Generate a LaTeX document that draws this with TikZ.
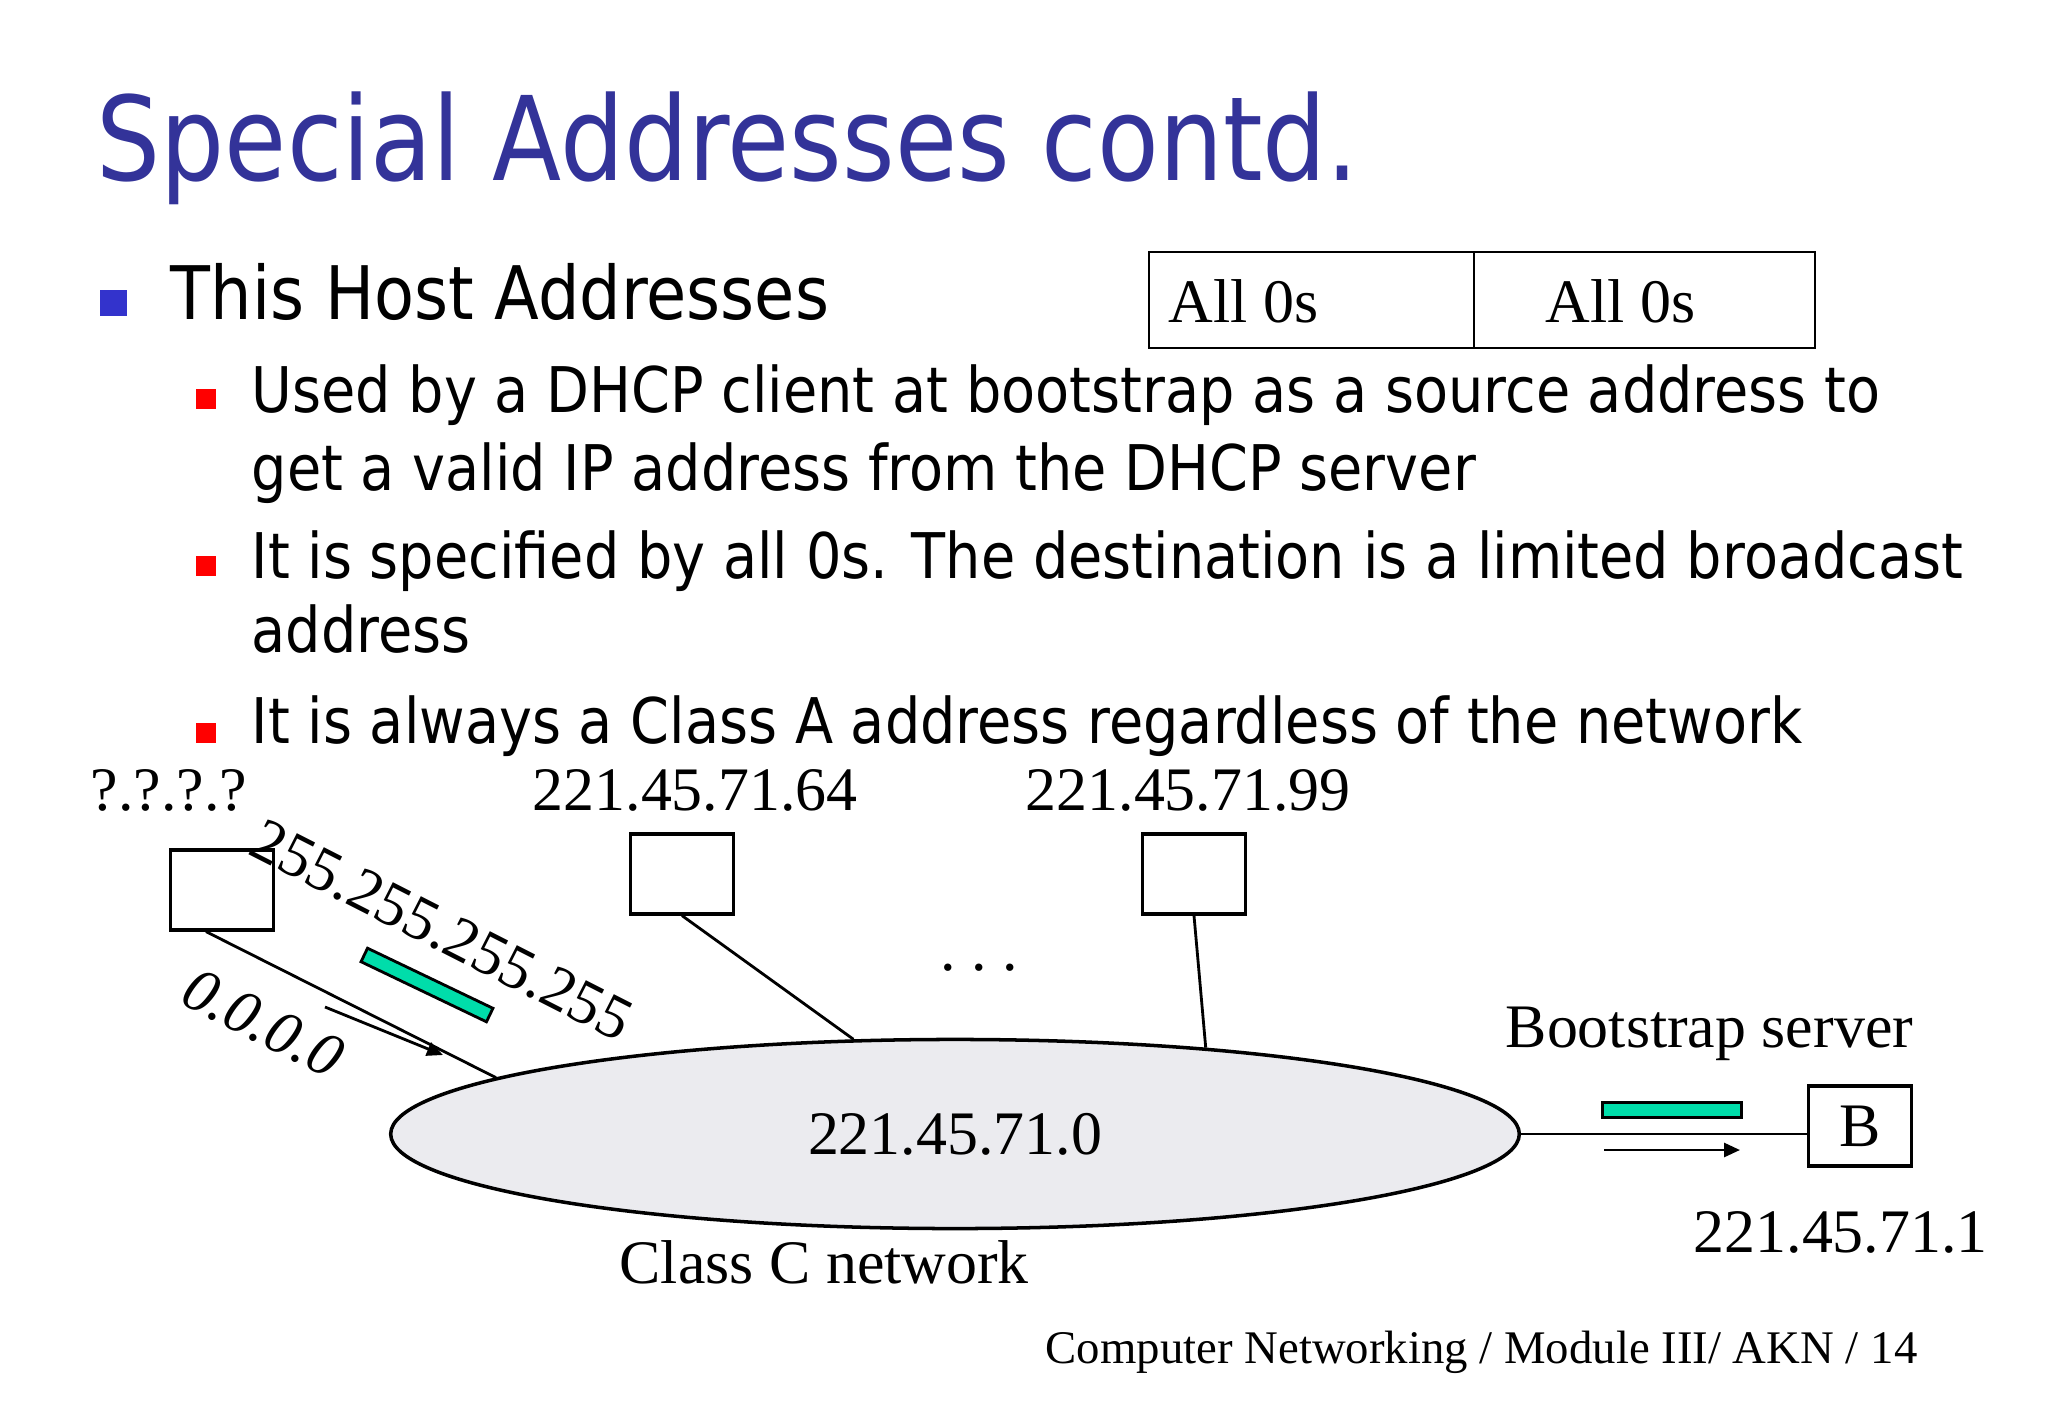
\documentclass[tikz,border=0pt]{standalone}
\usepackage{fontspec}
\setmainfont{Liberation Serif}
\newfontfamily\slidesans[FakeStretch=0.865]{DejaVu Sans}
\newfontfamily\slidebody[FakeStretch=0.885]{DejaVu Sans}
\usetikzlibrary{arrows.meta,shapes.geometric}
\definecolor{ink}{HTML}{000000}
\definecolor{titleblue}{HTML}{333399}
\definecolor{bulletblue}{HTML}{3333CC}
\definecolor{bulletred}{HTML}{FF0000}
\definecolor{netgrey}{HTML}{EBEBEF}
\definecolor{pkt}{HTML}{00DDAA}
\tikzset{
  host/.style={draw=ink, fill=white, line width=0.9pt, minimum width=1.03cm, minimum height=0.8cm, inner sep=0pt, font=\fontsize{17.6}{20}\selectfont},
  net/.style={ellipse, draw=ink, fill=netgrey, line width=1pt, minimum width=11.28cm, minimum height=1.89cm, inner sep=0pt, font=\fontsize{17.6}{20}\selectfont},
  pktbar/.style={draw=ink, fill=pkt, line width=0.8pt, minimum width=1.39cm, minimum height=0.15cm, inner sep=0pt},
  link/.style={draw=ink, line width=0.8pt},
  msg/.style={draw=ink, line width=0.8pt, -{Triangle[length=0.16cm,width=0.14cm]}},
  lab/.style={inner sep=0pt, anchor=base west, font=\fontsize{17.6}{20}\selectfont, text=ink},
  labit/.style={lab, font=\itshape\fontsize{17.6}{20}\selectfont},
  ttl/.style={inner sep=0pt, anchor=base west, font=\slidesans\fontsize{33.2}{40}\selectfont, text=titleblue},
  lvla/.style={inner sep=0pt, anchor=base west, font=\slidebody\fontsize{21}{25}\selectfont, text=ink},
  lvlb/.style={inner sep=0pt, anchor=base west, font=\slidebody\fontsize{17.9}{22}\selectfont, text=ink},
  foot/.style={lab, font=\fontsize{13.3}{16}\selectfont},
}
\begin{document}
\begin{tikzpicture}[x=0.01cm, y=-0.01cm]
  \useasboundingbox (0,0) rectangle (2048,1418);

  % slide text
  \node[ttl] (title) at (96,180) {Special Addresses contd.};
  \fill[bulletblue] (100,290) rectangle (127,316);
  \node[lvla] (thishost) at (170,319) {This Host Addresses};
  \foreach \y in {389,556,723} \fill[bulletred] (196,\y) rectangle (216,\y+20);
  \node[lvlb] (ba) at (251,412) {Used by a DHCP client at bootstrap as a source address to};
  \node[lvlb] (bb) at (251,490) {get a valid IP address from the DHCP server};
  \node[lvlb] (bc) at (251,578) {It is specified by all 0s. The destination is a limited broadcast};
  \node[lvlb] (bd) at (251,652) {address};
  \node[lvlb] (be) at (251,743) {It is always a Class A address regardless of the network};

  % address format
  \draw[link] (1149,252) rectangle (1815,348);
  \draw[link] (1474,252) -- (1474,348);
  \node[lab] (netid) at (1168,322) {All 0s};
  \node[lab] (hostid) at (1545,322) {All 0s};

  % network
  \node[net] (net) at (955,1134) {221.45.71.0};
  \node[lab] (netname) at (619,1283) {Class C network};

  \node[host] (h1) at (222,890) {};
  \node[host] (h2) at (682,874) {};
  \node[host] (h3) at (1194,874) {};
  \node[lab] (h1addr) at (90,810) {?.?.?.?};
  \node[lab] (h2addr) at (532,810) {221.45.71.64};
  \node[lab] (h3addr) at (1025,810) {221.45.71.99};
  \node[lab] (more) at (940,970) {.\ .\ .};
  \draw[link] ([xshift=-0.16cm]h1.south) -- (net.173);
  \draw[link] (h2.south) -- (net.137.6);
  \draw[link] (h3.south) -- (net.19.5);

  % request from the client
  \node[pktbar, rotate=-25.6] (req) at (427,985) {};
  \node[lab, anchor=center, rotate=-27] (dst) at (442,930) {255.255.255.255};
  \node[labit, anchor=center, rotate=-27] (src) at (263,1023) {0.0.0.0};
  \coordinate (reqfrom) at (325,1007);
  \coordinate (reqto) at (443,1055);
  \draw[msg] (reqfrom) -- (reqto);

  % bootstrap server
  \node[host] (srv) at (1860,1126) {B};
  \node[lab] (srvname) at (1505,1047) {Bootstrap server};
  \node[lab] (srvaddr) at (1693,1252) {221.45.71.1};
  \draw[link] (net.east) -- (net.east -| srv.west);
  \node[pktbar] (rep) at (1672,1110) {};
  \coordinate (repfrom) at (1604,1150);
  \coordinate (repto) at (1740,1150);
  \draw[msg] (repfrom) -- (repto);

  \node[foot] (footer) at (1045,1363) {Computer Networking / Module III/ AKN / 14};
\end{tikzpicture}
\end{document}
